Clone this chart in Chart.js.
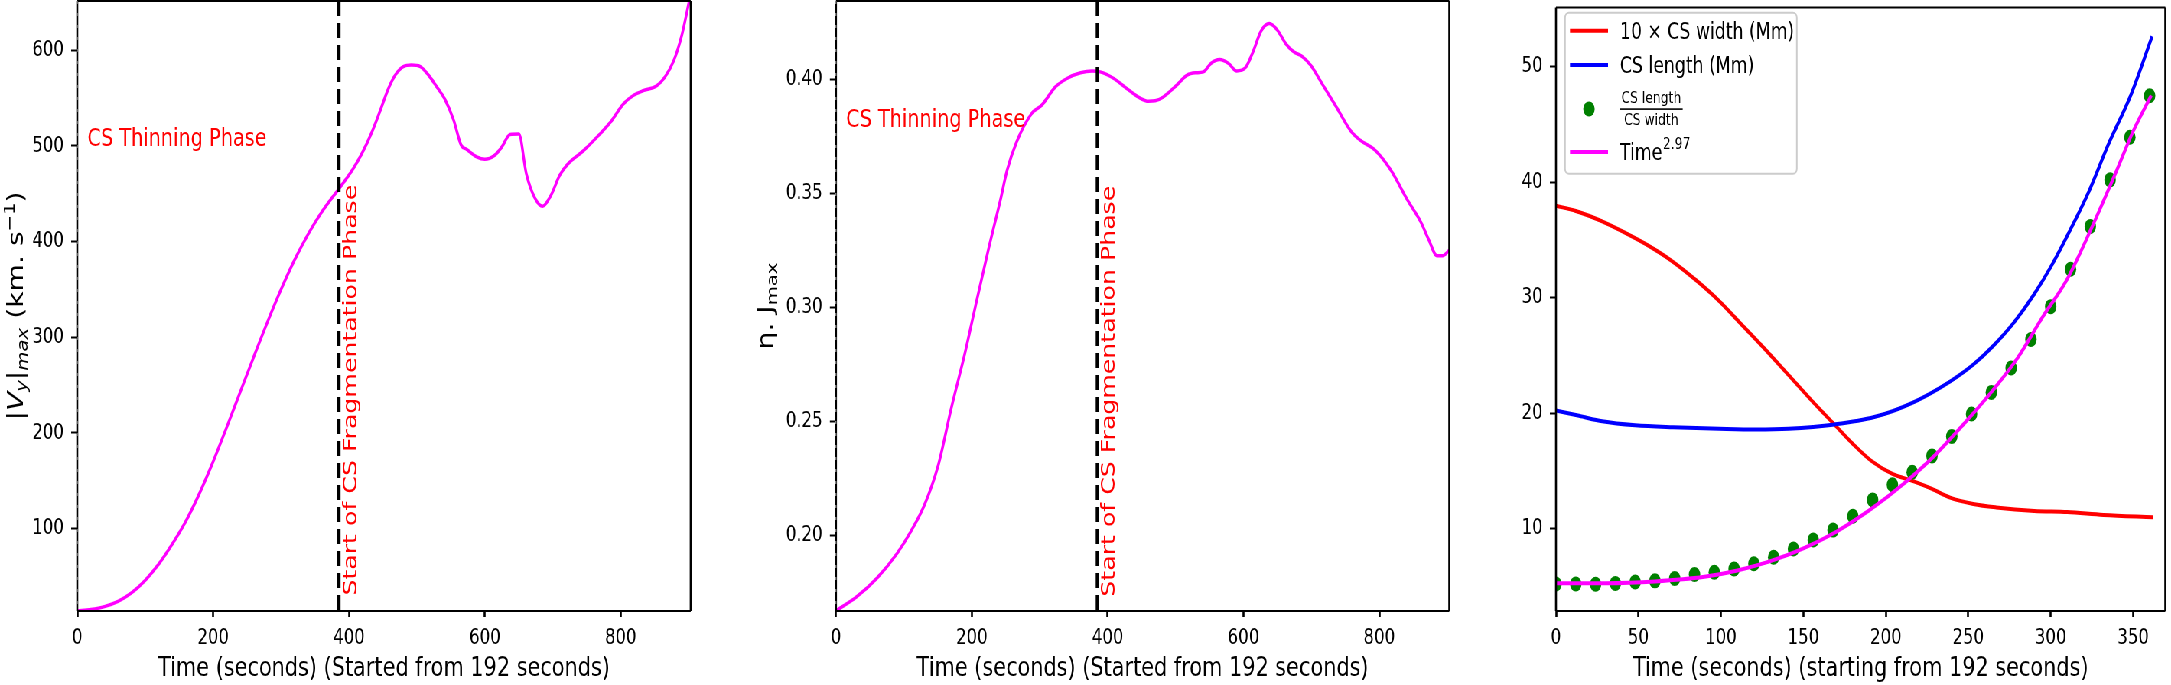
<!DOCTYPE html>
<html>
<head>
<meta charset="utf-8">
<script src="https://cdn.jsdelivr.net/npm/chart.js@4.4.1/dist/chart.umd.min.js"></script>
<style>
  html, body { margin: 0; padding: 0; background: #fff; overflow: hidden; }
  #fig { position: absolute; left: 0; top: 0; width: 2838px; height: 685px;
         transform: scaleX(0.765); transform-origin: 0 0; }
  #fig canvas { position: absolute; top: 0; }
</style>
</head>
<body>
<div id="fig">
  <canvas id="c1" width="980" height="685" style="left:0px;width:980px;height:685px"></canvas>
  <canvas id="c2" width="980" height="685" style="left:980px;width:980px;height:685px"></canvas>
  <canvas id="c3" width="878" height="685" style="left:1960px;width:878px;height:685px"></canvas>
</div>
<script>
// ---------- data ----------
// left panel: |Vy|max (km/s)
const vyTime = [0, 20, 40, 60, 80, 100, 120, 140, 160, 180, 200, 220, 240, 260, 280, 300, 320, 340, 360, 372,
  385, 406, 419, 434, 446, 458, 469, 480, 492, 505, 517, 529, 541, 554, 565, 573, 588, 600, 614, 625,
  637, 650, 661, 674, 685, 697, 710, 722, 745, 770, 785, 804, 819, 834, 853, 865, 878, 890, 901];
const vyMax = [14, 15.5, 18.5, 24, 33, 46, 63, 84, 108, 137, 170, 206, 243, 280, 316, 350, 381, 408, 431, 443,
  455, 476, 492, 515, 537, 560, 575, 583, 584.5, 583, 574, 562, 549, 527, 501, 496.5, 488.5, 486, 490, 499,
  512, 512.5, 471, 445, 437, 448, 469, 481, 495, 513, 525, 544, 553, 558, 563, 572, 589, 616, 652];

// middle panel: eta.Jmax
const ejTime = [0, 30, 60, 90, 110, 130, 150, 170, 190, 205, 225, 242, 252, 266, 288, 303, 323, 340, 360, 377, 389,
  409, 428, 446, 460, 470, 482, 500, 517, 529, 541, 552, 565, 578, 590, 603, 614, 626, 638, 650, 662,
  674, 686, 699, 718, 736, 758, 772, 794, 817, 841, 861, 873, 885, 893, 903];
const ejMax = [0.1668, 0.1728, 0.1810, 0.1920, 0.2015, 0.2130, 0.2300, 0.2560, 0.2800, 0.3000, 0.3260, 0.3469, 0.3601, 0.3725, 0.3849, 0.3886, 0.3966, 0.4003, 0.4028, 0.4036, 0.4032,
  0.4003, 0.3959, 0.3920, 0.3903, 0.3905, 0.3922, 0.3969, 0.4018, 0.4028, 0.4032, 0.4069, 0.4086, 0.4069, 0.4036, 0.4051, 0.4120, 0.4212, 0.4244, 0.4215, 0.4157,
  0.4120, 0.4101, 0.4061, 0.3969, 0.3882, 0.3773, 0.3732, 0.3688, 0.3601, 0.3472, 0.3374, 0.3294, 0.3225, 0.3225, 0.325];

// right panel
const widthTime = [0, 12, 28, 42, 56, 70, 85, 99, 113, 127, 141, 155, 169, 180, 191, 204, 217, 228, 239, 253, 267, 290, 310, 332, 362];
const csWidth10 = [37.95, 37.5, 36.6, 35.6, 34.5, 33.2, 31.5, 29.7, 27.6, 25.5, 23.3, 21.1, 19.0, 17.35, 15.9, 14.75, 14.1, 13.45, 12.7, 12.15, 11.85, 11.55, 11.45, 11.2, 11.0];
const lengthTime = [0, 14, 28, 48, 71, 99, 121, 141, 169, 193, 217, 239, 253, 265, 278, 290, 301, 312, 323.5, 334.8, 348.8, 361.5];
const csLength = [20.23, 19.78, 19.3, 18.95, 18.78, 18.66, 18.6, 18.66, 19.03, 19.67, 20.97, 22.75, 24.2, 25.8, 27.9, 30.3, 32.9, 35.9, 39.3, 43.2, 47.6, 52.6];
const ratioTime = [0, 12, 24, 36, 48, 60, 72, 84, 96, 108, 120, 132, 144, 156, 168, 180, 192, 204, 216, 228, 240, 252, 264, 276, 288, 300, 312, 324, 336, 348, 360];
const csRatio = [5.23, 5.23, 5.2, 5.27, 5.4, 5.5, 5.7, 6.05, 6.24, 6.53, 6.98, 7.54, 8.25, 9.03, 9.89, 11.09, 12.5, 13.81, 14.89, 16.31, 17.99, 19.93, 21.8, 23.92, 26.38, 29.22, 32.46, 36.16, 40.19, 43.88, 47.46];
const fitTime = [0, 30, 60, 90, 110, 130, 150, 170, 190, 210, 230, 250, 265, 280, 295, 310, 325, 340, 350, 361];
const fitCurve = [5.3, 5.3, 5.45, 5.85, 6.4, 7.2, 8.3, 9.75, 11.6, 13.8, 16.4, 19.5, 22.0, 24.8, 28.3, 31.6, 36.1, 41.0, 44.4, 47.5];

const phaseStart = 385;
const ticksTimeA = [0, 200, 400, 600, 800];
const ticksVy = [100, 200, 300, 400, 500, 600];
const ticksEj = [0.20, 0.25, 0.30, 0.35, 0.40];
const ticksTimeB = [0, 50, 100, 150, 200, 250, 300, 350];
const ticksB = [10, 20, 30, 40, 50];

// ---------- helpers ----------
const FONT = '"DejaVu Sans", "Liberation Sans", sans-serif';
// calibrate sizes so that text lengths match the figure whatever face is picked
const probe = document.createElement('canvas').getContext('2d');
probe.font = '25px ' + FONT;
const K = 411 / probe.measureText('Start of CS Fragmentation Phase').width;
const fs = v => v * K;

const pts = (xs, ys) => xs.map((x, i) => ({ x: x, y: ys[i] }));

function axes(o) {
  return {
    x: {
      type: 'linear', min: o.xMin, max: o.xMax,
      afterBuildTicks: s => { s.ticks = o.xTicks.map(v => ({ value: v })); },
      afterFit: s => { s.height = 74; s.paddingLeft = 0; s.paddingRight = 0; },
      grid: { drawOnChartArea: false, drawTicks: true, tickLength: 6, tickWidth: 2.6, tickColor: '#000' },
      border: { display: false },
      ticks: { color: '#000', font: { family: FONT, size: fs(21.5) }, padding: 8, maxRotation: 0, autoSkip: false },
      title: { display: true, text: o.xTitle, color: '#000', font: { family: FONT, size: fs(27), lineHeight: 1.15 }, padding: { top: 0, bottom: 0 } }
    },
    y: {
      type: 'linear', min: o.yMin, max: o.yMax,
      afterBuildTicks: s => { s.ticks = o.yTicks.map(v => ({ value: v })); },
      afterFit: s => { s.width = o.yWidth; s.paddingTop = 0; s.paddingBottom = 0; },
      grid: { drawOnChartArea: false, drawTicks: true, tickLength: 8, tickWidth: 2, tickColor: '#000' },
      border: { display: false },
      ticks: { color: '#000', font: { family: FONT, size: fs(21.5) }, padding: 9.4, autoSkip: false,
               callback: o.yFmt || (v => String(v)) }
    }
  };
}

function richText(ctx, parts, x, y) {
  ctx.save();
  ctx.translate(x, y);
  ctx.rotate(-Math.PI / 2);
  ctx.textBaseline = 'alphabetic';
  ctx.textAlign = 'left';
  ctx.fillStyle = '#000';
  let total = 0;
  parts.forEach(p => {
    p.f = (p.it ? 'italic ' : '') + fs(p.s) + 'px ' + FONT;
    ctx.font = p.f;
    p.w = ctx.measureText(p.t).width;
    total += p.w;
  });
  let cx = -total / 2;
  parts.forEach(p => { ctx.font = p.f; ctx.fillText(p.t, cx, p.dy || 0); cx += p.w; });
  ctx.restore();
}

// frame, phase markers, annotations, y labels
const decor = {
  id: 'decor',
  afterDatasetsDraw(chart, args, o) {
    const { ctx, chartArea: a } = chart;
    const sx = chart.scales.x, sy = chart.scales.y;
    ctx.save();
    ctx.strokeStyle = '#000';
    ctx.lineWidth = 2;
    ctx.beginPath();
    ctx.moveTo(a.left, a.top); ctx.lineTo(a.right, a.top);
    ctx.moveTo(a.left, a.bottom); ctx.lineTo(a.right, a.bottom);
    ctx.stroke();
    ctx.lineWidth = 2.6;
    ctx.beginPath();
    ctx.moveTo(a.left, a.top); ctx.lineTo(a.left, a.bottom);
    ctx.moveTo(a.right, a.top); ctx.lineTo(a.right, a.bottom);
    ctx.stroke();

    if (o.phase) {
      // thin dashed marker on x = 0
      ctx.strokeStyle = 'rgba(255,255,255,0.75)';
      ctx.lineWidth = 1;
      ctx.setLineDash([3, 9]);
      ctx.beginPath(); ctx.moveTo(a.left, a.top); ctx.lineTo(a.left, a.bottom); ctx.stroke();
      // thick dashed marker at the start of fragmentation
      const px = sx.getPixelForValue(phaseStart);
      ctx.strokeStyle = '#000';
      ctx.lineWidth = 4.6;
      ctx.setLineDash([15, 7]);
      ctx.beginPath(); ctx.moveTo(px, a.top); ctx.lineTo(px, a.bottom); ctx.stroke();
      ctx.setLineDash([]);

      ctx.fillStyle = '#ff0000';
      ctx.font = fs(25) + 'px ' + FONT;
      ctx.textAlign = 'left';
      ctx.textBaseline = 'alphabetic';
      ctx.fillText('CS Thinning Phase', sx.getPixelForValue(15), sy.getPixelForValue(o.thinY));

      ctx.save();
      ctx.translate(sx.getPixelForValue(389), sy.getPixelForValue(o.fragY));
      ctx.rotate(-Math.PI / 2);
      ctx.textBaseline = 'top';
      ctx.fillText('Start of CS Fragmentation Phase', 0, 0);
      ctx.restore();
    }
    ctx.restore();
    if (o.ylabel) richText(ctx, o.ylabel, o.ylabelX, (a.top + a.bottom) / 2);
    if (o.legend) o.legend(ctx);
  }
};

const base = {
  responsive: false, animation: false, devicePixelRatio: 1,
  plugins: { legend: { display: false }, tooltip: { enabled: false } }
};

function lineSet(data, color, width, order) {
  return { data: data, showLine: true, borderColor: color, borderWidth: width, pointRadius: 0,
           cubicInterpolationMode: 'monotone', fill: false, order: order };
}

// ---------- left panel ----------
new Chart(document.getElementById('c1'), {
  type: 'scatter',
  data: { datasets: [lineSet(pts(vyTime, vyMax), '#ff00ff', 3.5, 0)] },
  options: Object.assign({}, base, {
    layout: { padding: { top: 1, right: 77.1, bottom: 0, left: 0 } },
    scales: axes({ xMin: 0, xMax: 903, xTicks: ticksTimeA, yMin: 13.9, yMax: 651.5, yTicks: ticksVy, yWidth: 101,
                   xTitle: 'Time (seconds) (Started from 192 seconds)' }),
    plugins: Object.assign({}, base.plugins, {
      decor: { phase: true, thinY: 500, fragY: 30, ylabelX: 30,
        ylabel: [
          { t: '|', s: 28 }, { t: 'V', s: 28, it: true }, { t: 'y', s: 19.5, it: true, dy: 5 },
          { t: '|', s: 28 }, { t: 'max', s: 19.5, it: true, dy: 6 },
          { t: ' (km. s', s: 28 }, { t: '\u22121', s: 19.5, dy: -11 }, { t: ')', s: 28 }
        ] }
    })
  }),
  plugins: [decor]
});

// ---------- middle panel ----------
new Chart(document.getElementById('c2'), {
  type: 'scatter',
  data: { datasets: [lineSet(pts(ejTime, ejMax), '#ff00ff', 3.5, 0)] },
  options: Object.assign({}, base, {
    layout: { padding: { top: 1, right: 65.5, bottom: 0, left: 0 } },
    scales: axes({ xMin: 0, xMax: 903, xTicks: ticksTimeA, yMin: 0.1667, yMax: 0.4343, yTicks: ticksEj, yWidth: 112.8,
                   xTitle: 'Time (seconds) (Started from 192 seconds)', yFmt: v => v.toFixed(2) }),
    plugins: Object.assign({}, base.plugins, {
      decor: { phase: true, thinY: 0.379, fragY: 0.173, ylabelX: 30,
        ylabel: [ { t: '\u03b7. J', s: 28 }, { t: 'max', s: 19.5, dy: 6 } ] }
    })
  }),
  plugins: [decor]
});

// ---------- right panel ----------
function drawLegend(ctx) {
  ctx.save();
  const x0 = 85.8, y0 = 12.7, w = 303, h = 161, r = 5;
  ctx.beginPath();
  ctx.roundRect(x0, y0, w, h, r);
  ctx.fillStyle = 'rgba(255,255,255,0.8)';
  ctx.fill();
  ctx.strokeStyle = '#cccccc';
  ctx.lineWidth = 2;
  ctx.stroke();

  const hx0 = 92.3, hx1 = 142, tx = 157.6;
  const rows = [['#ff0000', 30.7, '10 \u00d7 CS width (Mm)'], ['#0000ff', 65, 'CS length (Mm)']];
  ctx.lineWidth = 4;
  rows.forEach(rw => {
    ctx.strokeStyle = rw[0];
    ctx.beginPath(); ctx.moveTo(hx0, rw[1]); ctx.lineTo(hx1, rw[1]); ctx.stroke();
  });
  ctx.fillStyle = '#000';
  ctx.textAlign = 'left';
  ctx.textBaseline = 'alphabetic';
  ctx.font = fs(22.4) + 'px ' + FONT;
  rows.forEach(rw => ctx.fillText(rw[2], tx, rw[1] + 8));

  // ratio marker + fraction
  ctx.fillStyle = '#008000';
  ctx.beginPath(); ctx.arc(117.1, 109, 7.5, 0, Math.PI * 2); ctx.fill();
  ctx.fillStyle = '#000';
  ctx.font = fs(16) + 'px ' + FONT;
  const numW = ctx.measureText('CS length').width;
  const denW = ctx.measureText('CS width').width;
  const fw = Math.max(numW, denW) + 4;
  ctx.fillText('CS length', tx + (fw - numW) / 2, 103);
  ctx.fillText('CS width', tx + (fw - denW) / 2, 125);
  ctx.fillRect(tx, 108.3, fw, 1.6);

  // fit line
  ctx.strokeStyle = '#ff00ff';
  ctx.beginPath(); ctx.moveTo(hx0, 152); ctx.lineTo(hx1, 152); ctx.stroke();
  ctx.font = fs(22.4) + 'px ' + FONT;
  ctx.fillText('Time', tx, 160);
  const tw = ctx.measureText('Time').width;
  ctx.font = fs(16) + 'px ' + FONT;
  ctx.fillText('2.97', tx + tw + 1, 149);
  ctx.restore();
}

new Chart(document.getElementById('c3'), {
  type: 'scatter',
  data: { datasets: [
    lineSet(pts(fitTime, fitCurve), '#ff00ff', 4, 0),
    { data: pts(ratioTime, csRatio), showLine: false, pointRadius: 7.5, pointBorderWidth: 0,
      pointBackgroundColor: '#008000', pointBorderColor: '#008000', order: 1 },
    lineSet(pts(lengthTime, csLength), '#0000ff', 4, 2),
    lineSet(pts(widthTime, csWidth10), '#ff0000', 4, 3)
  ] },
  options: Object.assign({}, base, {
    layout: { padding: { top: 1, right: 2.3, bottom: 0, left: 0 } },
    scales: axes({ xMin: 0, xMax: 369.5, xTicks: ticksTimeB, yMin: 2.89, yMax: 55.1, yTicks: ticksB, yWidth: 74,
                   xTitle: 'Time (seconds) (starting from 192 seconds)' }),
    plugins: Object.assign({}, base.plugins, { decor: { legend: drawLegend } })
  }),
  plugins: [decor]
});
</script>
</body>
</html>
